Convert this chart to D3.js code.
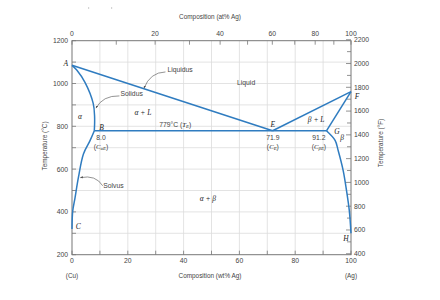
<!DOCTYPE html>
<html><head><meta charset="utf-8">
<script src="https://cdn.jsdelivr.net/npm/d3@7"></script>
<style>
body{margin:0;background:#fff;}
text{font-family:"Liberation Sans",Arial,sans-serif;fill:#444;}
.it{font-family:"Liberation Serif",serif;font-style:italic;fill:#222;}
</style></head><body>
<svg id="c" width="440" height="300"></svg>
<script>
// ---- data ----
const wtTicks = [0,10,20,30,40,50,60,70,80,90,100];
const wtLabels = [0,20,40,60,80,100];
const atTicks = [0,10,20,30,40,50,60,70,80,90,100];
const atLabels = [0,20,40,60,80,100];
const tempCTicks = [200,300,400,500,600,700,800,900,1000,1100,1200];
const tempCLabels = [200,400,600,800,1000,1200];
const tempFTicks = [400,500,600,700,800,900,1000,1100,1200,1300,1400,1500,1600,1700,1800,1900,2000,2100,2200];
const tempFLabels = [400,600,800,1000,1200,1400,1600,1800,2000,2200];

const liquidusAlpha = [[0,1085],[71.9,779]];
const liquidusBeta = [[71.9,779],[100,962]];
const eutectic = [[8.0,779],[91.2,779]];
const solidusAlpha = [[0,1085],[1.7,1063],[4.7,1004],[7.6,907],[8.1,844],[8.0,779]];
const solvusAlpha = [[8.0,779],[6.5,734],[4.1,671],[2.3,561],[1.1,467],[0.25,403],[0,320]];
const solidusBeta = [[91.2,779],[100,962]];
const solvusBeta = [[91.2,779],[94.3,734],[95.4,687],[97.2,593],[98.4,499],[99.4,405],[100,300]];

// ---- layout ----
const svg = d3.select("#c");
const L=72, R=351, T=40.7, B=254.7;
const x = d3.scaleLinear().domain([0,100]).range([L,R]);
const y = d3.scaleLinear().domain([200,1200]).range([B,T]);
const yF = d3.scaleLinear().domain([200*9/5+32,1200*9/5+32]).range([B,T]);
const at2wt = a => a*107.87/(a*107.87+(100-a)*63.55)*100;
const xAt = a => x(at2wt(a));
const blue="#2f7cc0", axisCol="#777", gridCol="#dcdcdc";

// grid
const g = svg.append("g");
g.selectAll(".vg").data(wtTicks.slice(1,-1)).join("line")
 .attr("x1",d=>x(d)).attr("x2",d=>x(d)).attr("y1",T).attr("y2",B)
 .attr("stroke",gridCol).attr("stroke-width",0.8);
g.selectAll(".hg").data(tempCTicks.slice(1,-1)).join("line")
 .attr("x1",L).attr("x2",R).attr("y1",d=>y(d)).attr("y2",d=>y(d))
 .attr("stroke",gridCol).attr("stroke-width",0.8);

// frame
svg.append("rect").attr("x",L).attr("y",T).attr("width",R-L).attr("height",B-T)
 .attr("fill","none").attr("stroke",axisCol).attr("stroke-width",1);

// ticks
const tk = svg.append("g").attr("stroke",axisCol).attr("stroke-width",0.8);
tk.selectAll(".bt").data(wtTicks).join("line").attr("x1",d=>x(d)).attr("x2",d=>x(d)).attr("y1",B).attr("y2",B-4);
tk.selectAll(".tt").data(atTicks).join("line").attr("x1",d=>xAt(d)).attr("x2",d=>xAt(d)).attr("y1",T).attr("y2",T+4);
tk.selectAll(".lt").data(tempCTicks).join("line").attr("x1",L).attr("x2",L+4).attr("y1",d=>y(d)).attr("y2",d=>y(d));
tk.selectAll(".rt").data(tempFTicks).join("line").attr("x1",R).attr("x2",d=>R-(d%200===0?5:4)).attr("y1",d=>yF(d)).attr("y2",d=>yF(d));

// tick labels
const fs=6.8;
svg.selectAll(".bl").data(wtLabels).join("text").attr("x",d=>x(d)).attr("y",B+8)
 .attr("text-anchor","middle").attr("font-size",fs).text(d=>d);
svg.selectAll(".tl").data(atLabels).join("text").attr("x",d=>xAt(d)).attr("y",T-4.8)
 .attr("text-anchor","middle").attr("font-size",fs).text(d=>d);
svg.selectAll(".ll").data(tempCLabels).join("text").attr("x",L-4).attr("y",d=>y(d)+2.4)
 .attr("text-anchor","end").attr("font-size",fs).text(d=>d);
svg.selectAll(".rl").data(tempFLabels).join("text").attr("x",R+3).attr("y",d=>yF(d)+2.4)
 .attr("text-anchor","start").attr("font-size",fs).text(d=>d);

// axis titles
const tf=6.4;
svg.append("text").attr("x",210).attr("y",19).attr("text-anchor","middle").attr("font-size",tf).text("Composition (at% Ag)");
svg.append("text").attr("x",210).attr("y",278).attr("text-anchor","middle").attr("font-size",tf).text("Composition (wt% Ag)");
svg.append("text").attr("x",x(0)).attr("y",278).attr("text-anchor","middle").attr("font-size",tf).text("(Cu)");
svg.append("text").attr("x",x(100)).attr("y",278).attr("text-anchor","middle").attr("font-size",tf).text("(Ag)");
svg.append("text").attr("transform","translate(47,146) rotate(-90)").attr("text-anchor","middle").attr("font-size",tf).text("Temperature (°C)");
svg.append("text").attr("transform","translate(383,143) rotate(-90)").attr("text-anchor","middle").attr("font-size",tf).text("Temperature (°F)");

// faint marks at top
svg.selectAll(".dot").data([88,111]).join("rect").attr("x",d=>d).attr("y",7.5).attr("width",1.2).attr("height",1).attr("fill","#aaa");

// phase lines
const line = d3.line().x(d=>x(d[0])).y(d=>y(d[1]));
const curve = d3.line().x(d=>x(d[0])).y(d=>y(d[1])).curve(d3.curveCatmullRom.alpha(0.5));
const pl = svg.append("g").attr("fill","none").attr("stroke",blue).attr("stroke-width",1.5).attr("stroke-linejoin","round");
[liquidusAlpha,liquidusBeta,eutectic,solidusBeta].forEach(d=>pl.append("path").attr("d",line(d)));
[solidusAlpha,solvusAlpha,solvusBeta].forEach(d=>pl.append("path").attr("d",curve(d)));

// leaders
const defs=svg.append("defs");
defs.append("marker").attr("id","ah").attr("viewBox","0 0 10 10").attr("refX",9).attr("refY",5)
 .attr("markerWidth",4).attr("markerHeight",4).attr("orient","auto")
 .append("path").attr("d","M0,1L10,5L0,9z").attr("fill","#555");
const leaders=[
 {from:[33.5,1054],ctrl:[28,1052],to:[25.8,978]},
 {from:[17.0,942],ctrl:[11,944],to:[8.6,885]},
 {from:[11.0,522],ctrl:[8.5,575],to:[3.0,560]}
];
svg.selectAll(".ld").data(leaders).join("path")
 .attr("d",d=>`M${x(d.from[0])},${y(d.from[1])}Q${x(d.ctrl[0])},${y(d.ctrl[1])} ${x(d.to[0])},${y(d.to[1])}`)
 .attr("fill","none").attr("stroke","#666").attr("stroke-width",0.7).attr("marker-end","url(#ah)");

// annotations (data coordinates)
const plainLabels=[
 {t:"Liquidus",p:[34.2,1052],a:"start"},
 {t:"Solidus",p:[17.4,940],a:"start"},
 {t:"Solvus",p:[11.2,514],a:"start"},
 {t:"Liquid",p:[62.4,991],a:"middle"},
 {t:"8.0",p:[10.4,738],a:"middle"},
 {t:"71.9",p:[72,738],a:"middle"},
 {t:"91.2",p:[88.5,738],a:"middle"}
];
svg.selectAll(".pl").data(plainLabels).join("text").attr("x",d=>x(d.p[0])).attr("y",d=>y(d.p[1]))
 .attr("text-anchor",d=>d.a).attr("font-size",6.8).text(d=>d.t);

const itLabels=[
 {t:"A",p:[-2.2,1084]},{t:"B",p:[10.6,785]},{t:"C",p:[2.2,318]},
 {t:"E",p:[72,797]},{t:"F",p:[102.2,926]},{t:"G",p:[95,766]},{t:"H",p:[98.2,266]},
 {t:"α",p:[2.9,832]},{t:"α + L",p:[25.4,855]},{t:"β + L",p:[87.5,818]},
 {t:"β",p:[96.8,738]},{t:"α + β",p:[48.7,449]}
];
svg.selectAll(".il").data(itLabels).join("text").attr("class","it").attr("x",d=>x(d.p[0])).attr("y",d=>y(d.p[1]))
 .attr("text-anchor","middle").attr("font-size",7.5).text(d=>d.t);

// subscripted labels
function subLabel(px,py,main,sub,extra){
  const t=svg.append("text").attr("x",px).attr("y",py).attr("text-anchor","middle").attr("font-size",6.8);
  t.append("tspan").text(main);
  t.append("tspan").attr("class","it").text(sub[0]);
  t.append("tspan").attr("class","it").attr("font-size",4.8).attr("dy",1.5).text(sub[1]);
  t.append("tspan").attr("dy",-1.5).text(extra);
}
subLabel(x(37),y(799),"779°C (",["T","E"],")");
subLabel(x(10.4),y(696),"(",["C","αE"],")");
subLabel(x(72),y(696),"(",["C","E"],")");
subLabel(x(88.5),y(696),"(",["C","βE"],")");
</script></body></html>
